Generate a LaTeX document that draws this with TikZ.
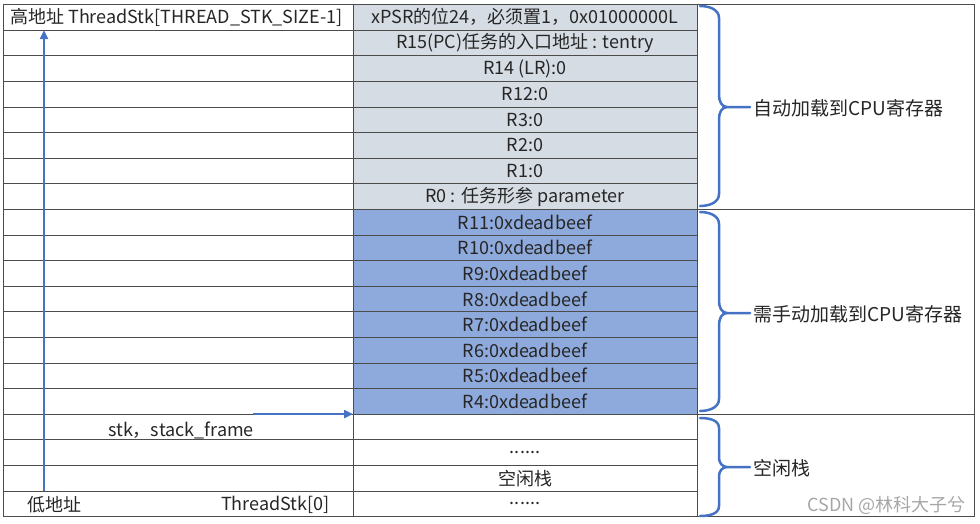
\documentclass[tikz,border=0pt]{standalone}
\usepackage{fontspec}
\setmainfont{Noto Sans CJK SC}
\usetikzlibrary{arrows.meta}
\definecolor{grayrow}{HTML}{D6DCE4}
\definecolor{bluerow}{HTML}{8EA9DB}
\definecolor{accent}{HTML}{4472C4}
\definecolor{txt}{HTML}{262626}
\definecolor{wm}{HTML}{A6A6A6}
\begin{document}
\begin{tikzpicture}[x=1pt,y=-1pt,
  font=\fontsize{18}{21}\selectfont,
  lcell/.style={draw=black!70, line width=0.8pt, minimum width=349.5pt, minimum height=25.6pt, inner sep=0pt, outer sep=0pt},
  rcell/.style={draw=black!70, line width=0.8pt, minimum width=344pt, minimum height=25.6pt, inner sep=0pt, outer sep=0pt, text=txt},
  section/.style={draw=black!70, line width=0.8pt, minimum width=277pt, inner sep=0pt, outer sep=0pt},
  lbl/.style={text=txt, inner sep=0pt, anchor=west},
  sidelbl/.style={lbl, font=\fontsize{19}{22}\selectfont},
  bluearrow/.style={draw=accent, line width=2.2pt, -{Triangle[length=9pt,width=8pt]}},
  bracestyle/.style={draw=accent, line width=2.5pt, line cap=round, line join=round},
]
\useasboundingbox (0,0) rectangle (980,523);

% left column cells
\foreach \i in {1,...,20}
  \node[lcell] (L\i) at (178.25, {4.5+(\i-0.5)*25.6}) {};

% right column cells
\foreach \i/\t/\c in {
  1/{xPSR的位24，必须置1，0x01000000L}/grayrow,
  2/{R15(PC)任务的入口地址 : tentry}/grayrow,
  3/{R14 (LR):0}/grayrow,
  4/{R12:0}/grayrow,
  5/{R3:0}/grayrow,
  6/{R2:0}/grayrow,
  7/{R1:0}/grayrow,
  8/{R0 : 任务形参 parameter}/grayrow,
  9/{R11:0xdeadbeef}/bluerow,
  10/{R10:0xdeadbeef}/bluerow,
  11/{R9:0xdeadbeef}/bluerow,
  12/{R8:0xdeadbeef}/bluerow,
  13/{R7:0xdeadbeef}/bluerow,
  14/{R6:0xdeadbeef}/bluerow,
  15/{R5:0xdeadbeef}/bluerow,
  16/{R4:0xdeadbeef}/bluerow,
  17/{}/white,
  18/{......}/white,
  19/{空闲栈}/white,
  20/{......}/white}
  \node[rcell, fill=\c] (R\i) at (525, {4.5+(\i-0.5)*25.6}) {\t};

% right side sections
\node[section, minimum height=204.8pt] (S1) at (835.5, 106.9) {};
\node[section, minimum height=204.8pt] (S2) at (835.5, 311.7) {};
\node[section, minimum height=102.4pt] (S3) at (835.5, 465.3) {};

% left column texts
\node[lbl] (hi) at (10, 17.3) {高地址 ThreadStk[THREAD\_STK\_SIZE-1]};
\node[text=txt, inner sep=0pt] (stk) at (181, 430.5) {stk，stack\_frame};
\node[lbl] (lo) at (27, 504.7) {低地址};
\node[text=txt, inner sep=0pt, anchor=east] (t0) at (330, 504.7) {ThreadStk[0]};

% arrows
\coordinate (ax) at (44,0);
\coordinate (stkstart) at (253,0);
\draw[bluearrow] (L20.north -| ax) -- (L1.south -| ax);
\draw[bluearrow] (L17.north -| stkstart) -- (R17.north west);

% braces
\draw[bracestyle] (700,6) to[out=0,in=90] (719,18) -- (719,95) to[out=-90,in=180] (727,107) -- (750,107)
  (727,107) to[out=180,in=90] (719,119) -- (719,194) to[out=-90,in=0] (700,206);
\draw[bracestyle] (700,212) to[out=0,in=90] (719,224) -- (719,301) to[out=-90,in=180] (727,313) -- (750,313)
  (727,313) to[out=180,in=90] (719,325) -- (719,399) to[out=-90,in=0] (700,411);
\draw[bracestyle] (700,418) to[out=0,in=90] (719,428) -- (719,458) to[out=-90,in=180] (727,467) -- (750,467)
  (727,467) to[out=180,in=90] (719,476) -- (719,506) to[out=-90,in=0] (700,516);

% brace labels
\node[sidelbl] (auto) at (753, 108) {自动加载到CPU寄存器};
\node[sidelbl] (manual) at (753, 314) {需手动加载到CPU寄存器};
\node[sidelbl] (free) at (753, 468) {空闲栈};
\node[text=wm, inner sep=0pt, anchor=east, font=\fontsize{18}{21}\selectfont] (csdn) at (966, 505) {CSDN @林科大子兮};
\end{tikzpicture}
\end{document}
